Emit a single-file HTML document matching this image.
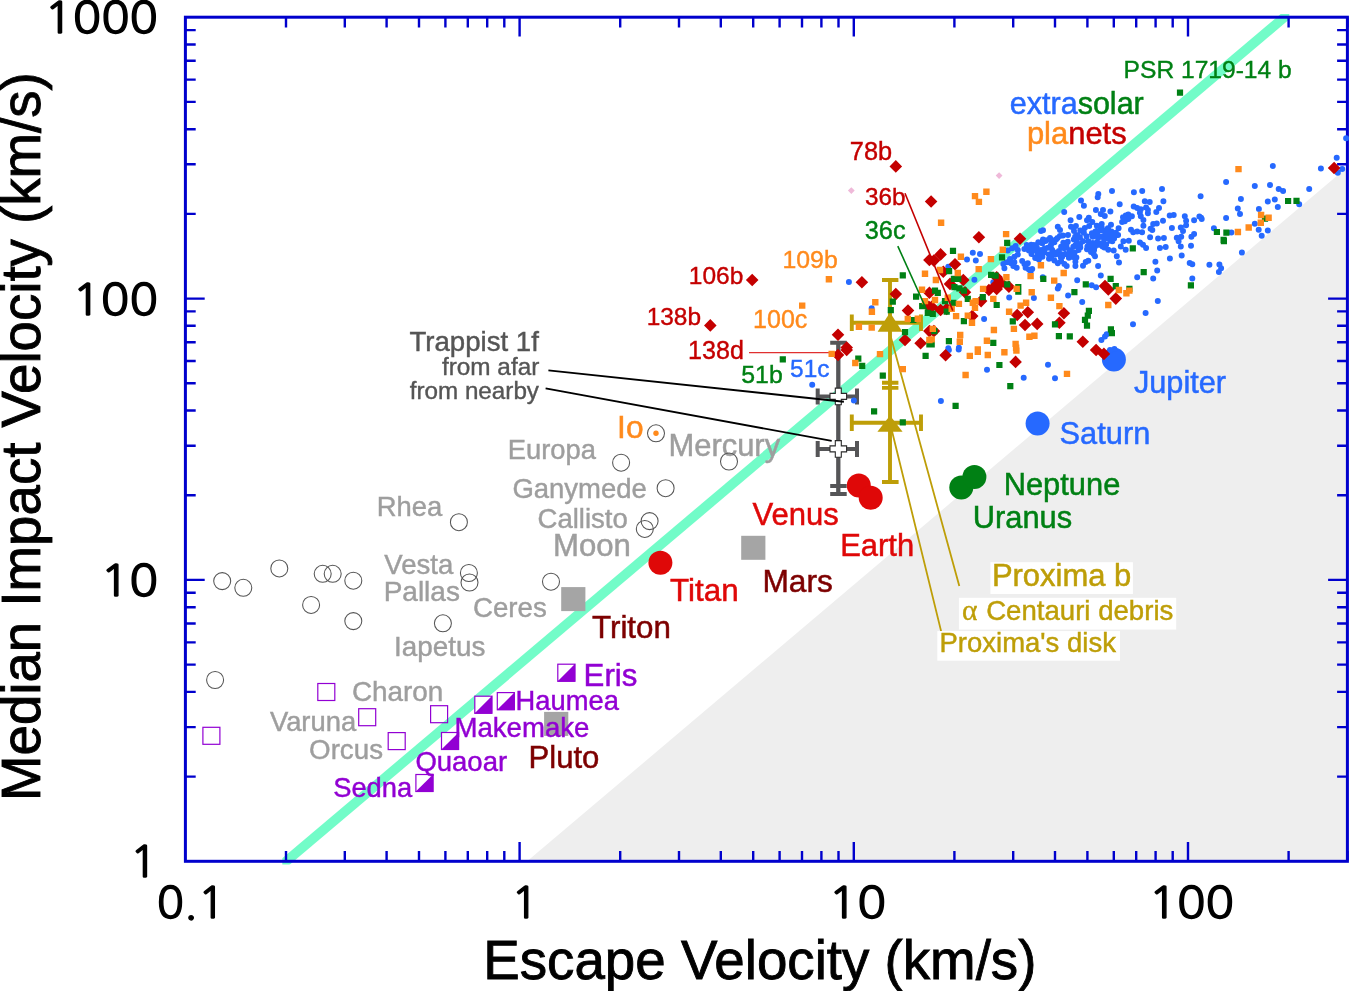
<!DOCTYPE html>
<html lang="en">
<head>
<meta charset="utf-8">
<title>Median Impact Velocity vs Escape Velocity</title>
<style>
html,body{margin:0;padding:0;background:#fff;}
body{width:1350px;height:991px;overflow:hidden;}
svg{display:block;}
</style>
</head>
<body>
<svg width="1350" height="991" viewBox="0 0 1350 991" font-family='"Liberation Sans", sans-serif'>
<rect x="0" y="0" width="1350" height="991" fill="#fff"/>
<polygon points="527.1,861.3 1347.4,167.0 1347.4,861.3" fill="#eeeeee"/>
<clipPath id="fr"><rect x="282.3" y="13.9" width="1007.0" height="850.6"/></clipPath>
<line x1="250.0" y1="891.9" x2="1320.0" y2="-12.9" stroke="#72fcc8" stroke-width="9.7" clip-path="url(#fr)"/>
<path d="M286.0,861.3v-10.3M286.0,17.2v10.3M344.8,861.3v-10.3M344.8,17.2v10.3M386.6,861.3v-10.3M386.6,17.2v10.3M419.0,861.3v-10.3M419.0,17.2v10.3M445.4,861.3v-10.3M445.4,17.2v10.3M467.8,861.3v-10.3M467.8,17.2v10.3M487.2,861.3v-10.3M487.2,17.2v10.3M504.3,861.3v-10.3M504.3,17.2v10.3M519.6,861.3v-19.3M519.6,17.2v19.3M620.2,861.3v-10.3M620.2,17.2v10.3M679.0,861.3v-10.3M679.0,17.2v10.3M720.8,861.3v-10.3M720.8,17.2v10.3M753.2,861.3v-10.3M753.2,17.2v10.3M779.6,861.3v-10.3M779.6,17.2v10.3M802.0,861.3v-10.3M802.0,17.2v10.3M821.4,861.3v-10.3M821.4,17.2v10.3M838.5,861.3v-10.3M838.5,17.2v10.3M853.8,861.3v-19.3M853.8,17.2v19.3M954.4,861.3v-10.3M954.4,17.2v10.3M1013.2,861.3v-10.3M1013.2,17.2v10.3M1055.0,861.3v-10.3M1055.0,17.2v10.3M1087.4,861.3v-10.3M1087.4,17.2v10.3M1113.8,861.3v-10.3M1113.8,17.2v10.3M1136.2,861.3v-10.3M1136.2,17.2v10.3M1155.6,861.3v-10.3M1155.6,17.2v10.3M1172.7,861.3v-10.3M1172.7,17.2v10.3M1188.0,861.3v-19.3M1188.0,17.2v19.3M1288.6,861.3v-10.3M1288.6,17.2v10.3M1347.4,861.3v-10.3M1347.4,17.2v10.3M185.4,776.6h10.3M1347.4,776.6h-10.3M185.4,727.1h10.3M1347.4,727.1h-10.3M185.4,691.9h10.3M1347.4,691.9h-10.3M185.4,664.6h10.3M1347.4,664.6h-10.3M185.4,642.4h10.3M1347.4,642.4h-10.3M185.4,623.5h10.3M1347.4,623.5h-10.3M185.4,607.2h10.3M1347.4,607.2h-10.3M185.4,592.8h10.3M1347.4,592.8h-10.3M185.4,579.9h19.3M1347.4,579.9h-19.3M185.4,495.2h10.3M1347.4,495.2h-10.3M185.4,445.7h10.3M1347.4,445.7h-10.3M185.4,410.5h10.3M1347.4,410.5h-10.3M185.4,383.3h10.3M1347.4,383.3h-10.3M185.4,361.0h10.3M1347.4,361.0h-10.3M185.4,342.2h10.3M1347.4,342.2h-10.3M185.4,325.8h10.3M1347.4,325.8h-10.3M185.4,311.4h10.3M1347.4,311.4h-10.3M185.4,298.6h19.3M1347.4,298.6h-19.3M185.4,213.9h10.3M1347.4,213.9h-10.3M185.4,164.3h10.3M1347.4,164.3h-10.3M185.4,129.2h10.3M1347.4,129.2h-10.3M185.4,101.9h10.3M1347.4,101.9h-10.3M185.4,79.6h10.3M1347.4,79.6h-10.3M185.4,60.8h10.3M1347.4,60.8h-10.3M185.4,44.5h10.3M1347.4,44.5h-10.3M185.4,30.1h10.3M1347.4,30.1h-10.3" stroke="#0000cd" stroke-width="2.4" fill="none"/>
<rect x="185.4" y="17.2" width="1162.0" height="844.1" fill="none" stroke="#0000cd" stroke-width="3"/>
<text x="507.8" y="459.0" font-size="27.4" fill="#9e9e9e" stroke="#9e9e9e" stroke-width="0.44" textLength="88.2" lengthAdjust="spacingAndGlyphs">Europa</text>
<text x="668.5" y="455.6" font-size="30.9" fill="#9e9e9e" stroke="#9e9e9e" stroke-width="0.49" textLength="111.6" lengthAdjust="spacingAndGlyphs">Mercury</text>
<text x="512.4" y="497.7" font-size="27.5" fill="#9e9e9e" stroke="#9e9e9e" stroke-width="0.44" textLength="134.4" lengthAdjust="spacingAndGlyphs">Ganymede</text>
<text x="537.5" y="528.2" font-size="27.5" fill="#9e9e9e" stroke="#9e9e9e" stroke-width="0.44" textLength="90.3" lengthAdjust="spacingAndGlyphs">Callisto</text>
<text x="553.0" y="556.2" font-size="31.1" fill="#9e9e9e" stroke="#9e9e9e" stroke-width="0.50" textLength="77.9" lengthAdjust="spacingAndGlyphs">Moon</text>
<text x="376.7" y="516.0" font-size="27.4" fill="#9e9e9e" stroke="#9e9e9e" stroke-width="0.44" textLength="65.5" lengthAdjust="spacingAndGlyphs">Rhea</text>
<text x="384.3" y="573.5" font-size="27.6" fill="#9e9e9e" stroke="#9e9e9e" stroke-width="0.44" textLength="69.0" lengthAdjust="spacingAndGlyphs">Vesta</text>
<text x="383.7" y="601.0" font-size="28.0" fill="#9e9e9e" stroke="#9e9e9e" stroke-width="0.45" textLength="76.2" lengthAdjust="spacingAndGlyphs">Pallas</text>
<text x="473.0" y="616.6" font-size="27.7" fill="#9e9e9e" stroke="#9e9e9e" stroke-width="0.44" textLength="73.8" lengthAdjust="spacingAndGlyphs">Ceres</text>
<text x="394.1" y="655.7" font-size="27.8" fill="#9e9e9e" stroke="#9e9e9e" stroke-width="0.45" textLength="91.3" lengthAdjust="spacingAndGlyphs">Iapetus</text>
<text x="351.9" y="700.6" font-size="27.9" fill="#9e9e9e" stroke="#9e9e9e" stroke-width="0.45" textLength="91.4" lengthAdjust="spacingAndGlyphs">Charon</text>
<text x="269.9" y="730.9" font-size="27.4" fill="#9e9e9e" stroke="#9e9e9e" stroke-width="0.44" textLength="86.3" lengthAdjust="spacingAndGlyphs">Varuna</text>
<text x="309.1" y="758.6" font-size="27.7" fill="#9e9e9e" stroke="#9e9e9e" stroke-width="0.44" textLength="73.9" lengthAdjust="spacingAndGlyphs">Orcus</text>
<circle cx="222.2" cy="581.1" r="8.5" fill="none" stroke="#555" stroke-width="1.05"/>
<circle cx="243.3" cy="587.8" r="8.5" fill="none" stroke="#555" stroke-width="1.05"/>
<circle cx="279.3" cy="568.4" r="8.5" fill="none" stroke="#555" stroke-width="1.05"/>
<circle cx="322.7" cy="573.8" r="8.5" fill="none" stroke="#555" stroke-width="1.05"/>
<circle cx="332.7" cy="573.8" r="8.5" fill="none" stroke="#555" stroke-width="1.05"/>
<circle cx="353.3" cy="580.7" r="8.5" fill="none" stroke="#555" stroke-width="1.05"/>
<circle cx="311.1" cy="604.9" r="8.5" fill="none" stroke="#555" stroke-width="1.05"/>
<circle cx="353.3" cy="621.1" r="8.5" fill="none" stroke="#555" stroke-width="1.05"/>
<circle cx="442.9" cy="623.3" r="8.5" fill="none" stroke="#555" stroke-width="1.05"/>
<circle cx="458.9" cy="522.2" r="8.5" fill="none" stroke="#555" stroke-width="1.05"/>
<circle cx="468.9" cy="573.0" r="8.5" fill="none" stroke="#555" stroke-width="1.05"/>
<circle cx="469.5" cy="582.5" r="8.5" fill="none" stroke="#555" stroke-width="1.05"/>
<circle cx="215.1" cy="680.0" r="8.5" fill="none" stroke="#555" stroke-width="1.05"/>
<circle cx="621.1" cy="462.7" r="8.5" fill="none" stroke="#555" stroke-width="1.05"/>
<circle cx="729.0" cy="461.5" r="8.5" fill="none" stroke="#555" stroke-width="1.05"/>
<circle cx="665.6" cy="488.2" r="8.5" fill="none" stroke="#555" stroke-width="1.05"/>
<circle cx="649.6" cy="521.1" r="8.5" fill="none" stroke="#555" stroke-width="1.05"/>
<circle cx="644.8" cy="528.9" r="8.5" fill="none" stroke="#555" stroke-width="1.05"/>
<circle cx="551.0" cy="581.7" r="8.5" fill="none" stroke="#555" stroke-width="1.05"/>
<circle cx="656.0" cy="433.3" r="8.5" fill="none" stroke="#555" stroke-width="1.05"/>
<circle cx="656" cy="433.3" r="2.7" fill="#ff8a1c"/>
<rect x="561.2" y="587.1" width="24.2" height="24" fill="#a5a5a5"/>
<rect x="741.2" y="535.8" width="24.2" height="24" fill="#a5a5a5"/>
<rect x="544.1" y="711.9" width="24.2" height="24" fill="#a5a5a5"/>
<rect x="202.9" y="727.3" width="17.0" height="17.0" fill="none" stroke="#9200d3" stroke-width="1.2"/>
<rect x="317.8" y="683.5" width="17.0" height="17.0" fill="none" stroke="#9200d3" stroke-width="1.2"/>
<rect x="358.7" y="708.7" width="17.0" height="17.0" fill="none" stroke="#9200d3" stroke-width="1.2"/>
<rect x="388.2" y="732.6" width="17.0" height="17.0" fill="none" stroke="#9200d3" stroke-width="1.2"/>
<rect x="430.6" y="705.7" width="17.0" height="17.0" fill="none" stroke="#9200d3" stroke-width="1.2"/>
<rect x="415.9" y="774.5" width="17.0" height="17.0" fill="#fff" stroke="#9200d3" stroke-width="1.2"/>
<polygon points="415.3,792.1 433.5,773.9 433.5,792.1" fill="#9200d3"/>
<rect x="441.5" y="732.5" width="17.0" height="17.0" fill="#fff" stroke="#9200d3" stroke-width="1.2"/>
<polygon points="440.9,750.1 459.1,731.9 459.1,750.1" fill="#9200d3"/>
<rect x="474.8" y="696.2" width="17.0" height="17.0" fill="#fff" stroke="#9200d3" stroke-width="1.2"/>
<polygon points="474.2,713.8 492.4,695.6 492.4,713.8" fill="#9200d3"/>
<rect x="497.3" y="692.6" width="17.0" height="17.0" fill="#fff" stroke="#9200d3" stroke-width="1.2"/>
<polygon points="496.7,710.2 514.9,692.0 514.9,710.2" fill="#9200d3"/>
<rect x="557.8" y="664.2" width="17.0" height="17.0" fill="#fff" stroke="#9200d3" stroke-width="1.2"/>
<polygon points="557.2,681.8 575.4,663.6 575.4,681.8" fill="#9200d3"/>
<path d="M749,352.6H835" stroke="#e03030" stroke-width="1.3" fill="none"/>
<path d="M887,323L959.3,586M890.5,425L941.1,631.1" stroke="#be9e08" stroke-width="1.8" fill="none"/>
<circle cx="660.4" cy="562.7" r="12" fill="#df0808"/>
<circle cx="858.8" cy="485.4" r="12" fill="#df0808"/>
<circle cx="870.7" cy="497.7" r="12" fill="#df0808"/>
<circle cx="1113.9" cy="359.4" r="12" fill="#2669ff"/>
<circle cx="1037.6" cy="423.6" r="12" fill="#2669ff"/>
<circle cx="961.3" cy="487.6" r="12" fill="#008014"/>
<circle cx="974.4" cy="477.1" r="12" fill="#008014"/>
<path d="M838.3,342.8V494.5" stroke="#555557" stroke-width="4.3" fill="none"/>
<path d="M830.2,342.8H846.7M830.2,486.0H846.7M830.2,494.0H846.7" stroke="#555557" stroke-width="4" fill="none"/>
<path d="M815.8,396.4H858.9M817.7,388.4V404.4M857,388.4V404.4" stroke="#555557" stroke-width="4" fill="none"/>
<path d="M815.8,448.9H858.9M817.7,440.9V456.9M857,440.9V456.9" stroke="#555557" stroke-width="4" fill="none"/>
<path d="M835.3,388.09999999999997h6.0v5.300000000000001h5.300000000000001v6.0h-5.300000000000001v5.300000000000001h-6.0v-5.300000000000001h-5.300000000000001v-6.0h5.300000000000001z" fill="#fff" stroke="#2a2a2a" stroke-width="1.1"/>
<path d="M835.3,440.59999999999997h6.0v5.300000000000001h5.300000000000001v6.0h-5.300000000000001v5.300000000000001h-6.0v-5.300000000000001h-5.300000000000001v-6.0h5.300000000000001z" fill="#fff" stroke="#2a2a2a" stroke-width="1.1"/>
<path d="M890.0,280V482M882,280H898.4M882,382.8H898.4M882,387.9H898.4M882,482H898.6" stroke="#be9e08" stroke-width="3.9" fill="none"/>
<path d="M850,322.8H922.8M851.8,314.6V331.0M921,314.6V331.0" stroke="#be9e08" stroke-width="3.9" fill="none"/>
<path d="M850,422.8H922.8M851.8,414.6V431.0M921,414.6V431.0" stroke="#be9e08" stroke-width="3.9" fill="none"/>
<polygon points="890.0,312.6 902.4,331.8 877.6,331.8" fill="#be9e08"/>
<polygon points="890.0,415.4 902.6,431.8 877.4,431.8" fill="#be9e08"/>
<path d="M845.9,281.9a3,3 0 1,0 6,0a3,3 0 1,0 -6,0M868.7,308.3a3,3 0 1,0 6,0a3,3 0 1,0 -6,0M809.2,384.8a3,3 0 1,0 6,0a3,3 0 1,0 -6,0M850.9,400.6a3,3 0 1,0 6,0a3,3 0 1,0 -6,0M969.8,252.8a3,3 0 1,0 6,0a3,3 0 1,0 -6,0M977.0,254.1a3,3 0 1,0 6,0a3,3 0 1,0 -6,0M964.0,259.4a3,3 0 1,0 6,0a3,3 0 1,0 -6,0M972.8,260.6a3,3 0 1,0 6,0a3,3 0 1,0 -6,0M945.3,266.7a3,3 0 1,0 6,0a3,3 0 1,0 -6,0M971.4,279.7a3,3 0 1,0 6,0a3,3 0 1,0 -6,0M990.3,282.2a3,3 0 1,0 6,0a3,3 0 1,0 -6,0M1006.2,297.4a3,3 0 1,0 6,0a3,3 0 1,0 -6,0M1030.9,298.1a3,3 0 1,0 6,0a3,3 0 1,0 -6,0M981.1,319.1a3,3 0 1,0 6,0a3,3 0 1,0 -6,0M1055.9,286.1a3,3 0 1,0 6,0a3,3 0 1,0 -6,0M1054.8,288.6a3,3 0 1,0 6,0a3,3 0 1,0 -6,0M1065.1,295.6a3,3 0 1,0 6,0a3,3 0 1,0 -6,0M1039.8,277.2a3,3 0 1,0 6,0a3,3 0 1,0 -6,0M945.3,348.3a3,3 0 1,0 6,0a3,3 0 1,0 -6,0M955.9,347.8a3,3 0 1,0 6,0a3,3 0 1,0 -6,0M945.9,350.0a3,3 0 1,0 6,0a3,3 0 1,0 -6,0M955.7,349.4a3,3 0 1,0 6,0a3,3 0 1,0 -6,0M984.0,369.7a3,3 0 1,0 6,0a3,3 0 1,0 -6,0M1020.7,377.8a3,3 0 1,0 6,0a3,3 0 1,0 -6,0M1045.0,364.8a3,3 0 1,0 6,0a3,3 0 1,0 -6,0M1052.0,378.3a3,3 0 1,0 6,0a3,3 0 1,0 -6,0M937.9,400.9a3,3 0 1,0 6,0a3,3 0 1,0 -6,0M1130.0,324.2a3,3 0 1,0 6,0a3,3 0 1,0 -6,0M1103.7,334.2a3,3 0 1,0 6,0a3,3 0 1,0 -6,0M1102.0,336.4a3,3 0 1,0 6,0a3,3 0 1,0 -6,0M1098.4,340.0a3,3 0 1,0 6,0a3,3 0 1,0 -6,0M1111.4,348.9a3,3 0 1,0 6,0a3,3 0 1,0 -6,0M1107.0,350.0a3,3 0 1,0 6,0a3,3 0 1,0 -6,0M1343.1,138.3a3,3 0 1,0 6,0a3,3 0 1,0 -6,0M1333.7,157.8a3,3 0 1,0 6,0a3,3 0 1,0 -6,0M1317.9,168.6a3,3 0 1,0 6,0a3,3 0 1,0 -6,0M1339.2,168.9a3,3 0 1,0 6,0a3,3 0 1,0 -6,0M1334.8,172.8a3,3 0 1,0 6,0a3,3 0 1,0 -6,0M1269.8,165.9a3,3 0 1,0 6,0a3,3 0 1,0 -6,0M1223.1,181.9a3,3 0 1,0 6,0a3,3 0 1,0 -6,0M1251.8,185.9a3,3 0 1,0 6,0a3,3 0 1,0 -6,0M1267.0,185.0a3,3 0 1,0 6,0a3,3 0 1,0 -6,0M1275.7,188.9a3,3 0 1,0 6,0a3,3 0 1,0 -6,0M1280.1,190.9a3,3 0 1,0 6,0a3,3 0 1,0 -6,0M1306.2,188.9a3,3 0 1,0 6,0a3,3 0 1,0 -6,0M1197.6,196.3a3,3 0 1,0 6,0a3,3 0 1,0 -6,0M1237.9,198.9a3,3 0 1,0 6,0a3,3 0 1,0 -6,0M1271.8,199.4a3,3 0 1,0 6,0a3,3 0 1,0 -6,0M1264.8,201.4a3,3 0 1,0 6,0a3,3 0 1,0 -6,0M1274.8,207.0a3,3 0 1,0 6,0a3,3 0 1,0 -6,0M1296.2,204.2a3,3 0 1,0 6,0a3,3 0 1,0 -6,0M1234.8,208.6a3,3 0 1,0 6,0a3,3 0 1,0 -6,0M1255.9,209.1a3,3 0 1,0 6,0a3,3 0 1,0 -6,0M1237.0,214.1a3,3 0 1,0 6,0a3,3 0 1,0 -6,0M1223.1,218.1a3,3 0 1,0 6,0a3,3 0 1,0 -6,0M1198.1,217.8a3,3 0 1,0 6,0a3,3 0 1,0 -6,0M1251.8,223.7a3,3 0 1,0 6,0a3,3 0 1,0 -6,0M1210.9,228.3a3,3 0 1,0 6,0a3,3 0 1,0 -6,0M1228.4,232.4a3,3 0 1,0 6,0a3,3 0 1,0 -6,0M1255.7,229.8a3,3 0 1,0 6,0a3,3 0 1,0 -6,0M1264.8,230.6a3,3 0 1,0 6,0a3,3 0 1,0 -6,0M1258.7,235.8a3,3 0 1,0 6,0a3,3 0 1,0 -6,0M1238.9,252.6a3,3 0 1,0 6,0a3,3 0 1,0 -6,0M1206.4,264.7a3,3 0 1,0 6,0a3,3 0 1,0 -6,0M1216.4,264.4a3,3 0 1,0 6,0a3,3 0 1,0 -6,0M1218.1,268.3a3,3 0 1,0 6,0a3,3 0 1,0 -6,0M1215.9,271.9a3,3 0 1,0 6,0a3,3 0 1,0 -6,0M1095.3,193.9a3,3 0 1,0 6,0a3,3 0 1,0 -6,0M1109.0,190.9a3,3 0 1,0 6,0a3,3 0 1,0 -6,0M1130.9,192.2a3,3 0 1,0 6,0a3,3 0 1,0 -6,0M1139.2,190.9a3,3 0 1,0 6,0a3,3 0 1,0 -6,0M1159.0,188.9a3,3 0 1,0 6,0a3,3 0 1,0 -6,0M1196.4,216.4a3,3 0 1,0 6,0a3,3 0 1,0 -6,0M1198.7,218.9a3,3 0 1,0 6,0a3,3 0 1,0 -6,0M1061.2,211.9a3,3 0 1,0 6,0a3,3 0 1,0 -6,0M1067.6,220.2a3,3 0 1,0 6,0a3,3 0 1,0 -6,0M1038.0,231.0a3,3 0 1,0 6,0a3,3 0 1,0 -6,0M1040.0,230.3a3,3 0 1,0 6,0a3,3 0 1,0 -6,0M1054.8,226.7a3,3 0 1,0 6,0a3,3 0 1,0 -6,0M1057.0,230.0a3,3 0 1,0 6,0a3,3 0 1,0 -6,0M1068.0,226.7a3,3 0 1,0 6,0a3,3 0 1,0 -6,0M1071.0,231.0a3,3 0 1,0 6,0a3,3 0 1,0 -6,0M1060.0,235.5a3,3 0 1,0 6,0a3,3 0 1,0 -6,0M1065.0,235.0a3,3 0 1,0 6,0a3,3 0 1,0 -6,0M1047.0,238.0a3,3 0 1,0 6,0a3,3 0 1,0 -6,0M1040.0,239.5a3,3 0 1,0 6,0a3,3 0 1,0 -6,0M1047.7,239.0a3,3 0 1,0 6,0a3,3 0 1,0 -6,0M1004.8,250.6a3,3 0 1,0 6,0a3,3 0 1,0 -6,0M1009.2,248.3a3,3 0 1,0 6,0a3,3 0 1,0 -6,0M1012.6,246.1a3,3 0 1,0 6,0a3,3 0 1,0 -6,0M1014.8,250.0a3,3 0 1,0 6,0a3,3 0 1,0 -6,0M1014.8,254.4a3,3 0 1,0 6,0a3,3 0 1,0 -6,0M1011.4,256.7a3,3 0 1,0 6,0a3,3 0 1,0 -6,0M1007.0,258.9a3,3 0 1,0 6,0a3,3 0 1,0 -6,0M1003.7,262.2a3,3 0 1,0 6,0a3,3 0 1,0 -6,0M1000.3,263.9a3,3 0 1,0 6,0a3,3 0 1,0 -6,0M1001.4,268.3a3,3 0 1,0 6,0a3,3 0 1,0 -6,0M1008.1,263.3a3,3 0 1,0 6,0a3,3 0 1,0 -6,0M1011.4,262.2a3,3 0 1,0 6,0a3,3 0 1,0 -6,0M1010.3,266.1a3,3 0 1,0 6,0a3,3 0 1,0 -6,0M1013.7,267.8a3,3 0 1,0 6,0a3,3 0 1,0 -6,0M1019.2,261.1a3,3 0 1,0 6,0a3,3 0 1,0 -6,0M1021.4,263.9a3,3 0 1,0 6,0a3,3 0 1,0 -6,0M1024.8,263.3a3,3 0 1,0 6,0a3,3 0 1,0 -6,0M1022.6,267.8a3,3 0 1,0 6,0a3,3 0 1,0 -6,0M1025.9,269.4a3,3 0 1,0 6,0a3,3 0 1,0 -6,0M1029.2,268.9a3,3 0 1,0 6,0a3,3 0 1,0 -6,0M1027.6,271.7a3,3 0 1,0 6,0a3,3 0 1,0 -6,0M1023.7,245.0a3,3 0 1,0 6,0a3,3 0 1,0 -6,0M1021.4,248.9a3,3 0 1,0 6,0a3,3 0 1,0 -6,0M1025.9,250.6a3,3 0 1,0 6,0a3,3 0 1,0 -6,0M1030.3,248.9a3,3 0 1,0 6,0a3,3 0 1,0 -6,0M1033.7,246.7a3,3 0 1,0 6,0a3,3 0 1,0 -6,0M1035.3,242.2a3,3 0 1,0 6,0a3,3 0 1,0 -6,0M1039.2,243.3a3,3 0 1,0 6,0a3,3 0 1,0 -6,0M1042.6,241.1a3,3 0 1,0 6,0a3,3 0 1,0 -6,0M1038.1,250.0a3,3 0 1,0 6,0a3,3 0 1,0 -6,0M1041.4,252.2a3,3 0 1,0 6,0a3,3 0 1,0 -6,0M1036.4,254.4a3,3 0 1,0 6,0a3,3 0 1,0 -6,0M1033.7,257.2a3,3 0 1,0 6,0a3,3 0 1,0 -6,0M1035.9,259.4a3,3 0 1,0 6,0a3,3 0 1,0 -6,0M1044.8,247.8a3,3 0 1,0 6,0a3,3 0 1,0 -6,0M1048.1,244.4a3,3 0 1,0 6,0a3,3 0 1,0 -6,0M1051.4,242.2a3,3 0 1,0 6,0a3,3 0 1,0 -6,0M1049.2,250.0a3,3 0 1,0 6,0a3,3 0 1,0 -6,0M1045.9,254.4a3,3 0 1,0 6,0a3,3 0 1,0 -6,0M1048.1,257.8a3,3 0 1,0 6,0a3,3 0 1,0 -6,0M1051.4,260.6a3,3 0 1,0 6,0a3,3 0 1,0 -6,0M1054.8,263.3a3,3 0 1,0 6,0a3,3 0 1,0 -6,0M1052.6,254.4a3,3 0 1,0 6,0a3,3 0 1,0 -6,0M1055.9,251.1a3,3 0 1,0 6,0a3,3 0 1,0 -6,0M1058.1,246.7a3,3 0 1,0 6,0a3,3 0 1,0 -6,0M1060.3,242.8a3,3 0 1,0 6,0a3,3 0 1,0 -6,0M1064.8,241.7a3,3 0 1,0 6,0a3,3 0 1,0 -6,0M1063.7,247.8a3,3 0 1,0 6,0a3,3 0 1,0 -6,0M1067.0,250.6a3,3 0 1,0 6,0a3,3 0 1,0 -6,0M1062.6,253.9a3,3 0 1,0 6,0a3,3 0 1,0 -6,0M1059.2,256.7a3,3 0 1,0 6,0a3,3 0 1,0 -6,0M1058.1,261.1a3,3 0 1,0 6,0a3,3 0 1,0 -6,0M1061.4,263.9a3,3 0 1,0 6,0a3,3 0 1,0 -6,0M1063.7,266.1a3,3 0 1,0 6,0a3,3 0 1,0 -6,0M1065.9,257.8a3,3 0 1,0 6,0a3,3 0 1,0 -6,0M1070.3,246.7a3,3 0 1,0 6,0a3,3 0 1,0 -6,0M1088.7,285.3a3,3 0 1,0 6,0a3,3 0 1,0 -6,0M1093.1,287.2a3,3 0 1,0 6,0a3,3 0 1,0 -6,0M1079.2,302.0a3,3 0 1,0 6,0a3,3 0 1,0 -6,0M1154.8,301.1a3,3 0 1,0 6,0a3,3 0 1,0 -6,0M1142.6,313.0a3,3 0 1,0 6,0a3,3 0 1,0 -6,0M1078.0,200.5a3,3 0 1,0 6,0a3,3 0 1,0 -6,0M1080.9,205.7a3,3 0 1,0 6,0a3,3 0 1,0 -6,0M1094.7,197.2a3,3 0 1,0 6,0a3,3 0 1,0 -6,0M1116.7,204.3a3,3 0 1,0 6,0a3,3 0 1,0 -6,0M1092.9,210.1a3,3 0 1,0 6,0a3,3 0 1,0 -6,0M1100.0,210.1a3,3 0 1,0 6,0a3,3 0 1,0 -6,0M1107.4,211.4a3,3 0 1,0 6,0a3,3 0 1,0 -6,0M1097.8,214.1a3,3 0 1,0 6,0a3,3 0 1,0 -6,0M1101.8,215.9a3,3 0 1,0 6,0a3,3 0 1,0 -6,0M1076.3,217.0a3,3 0 1,0 6,0a3,3 0 1,0 -6,0M1085.8,217.7a3,3 0 1,0 6,0a3,3 0 1,0 -6,0M1084.0,220.3a3,3 0 1,0 6,0a3,3 0 1,0 -6,0M1089.3,222.1a3,3 0 1,0 6,0a3,3 0 1,0 -6,0M1072.9,226.1a3,3 0 1,0 6,0a3,3 0 1,0 -6,0M1093.8,225.7a3,3 0 1,0 6,0a3,3 0 1,0 -6,0M1098.7,223.9a3,3 0 1,0 6,0a3,3 0 1,0 -6,0M1098.7,227.4a3,3 0 1,0 6,0a3,3 0 1,0 -6,0M1108.0,224.8a3,3 0 1,0 6,0a3,3 0 1,0 -6,0M1104.9,228.3a3,3 0 1,0 6,0a3,3 0 1,0 -6,0M1115.6,228.3a3,3 0 1,0 6,0a3,3 0 1,0 -6,0M1080.9,232.8a3,3 0 1,0 6,0a3,3 0 1,0 -6,0M1096.9,230.6a3,3 0 1,0 6,0a3,3 0 1,0 -6,0M1102.2,234.1a3,3 0 1,0 6,0a3,3 0 1,0 -6,0M1108.4,231.4a3,3 0 1,0 6,0a3,3 0 1,0 -6,0M1112.9,232.8a3,3 0 1,0 6,0a3,3 0 1,0 -6,0M1115.1,235.0a3,3 0 1,0 6,0a3,3 0 1,0 -6,0M1076.9,237.2a3,3 0 1,0 6,0a3,3 0 1,0 -6,0M1083.6,236.3a3,3 0 1,0 6,0a3,3 0 1,0 -6,0M1089.8,236.8a3,3 0 1,0 6,0a3,3 0 1,0 -6,0M1095.1,237.7a3,3 0 1,0 6,0a3,3 0 1,0 -6,0M1111.1,238.6a3,3 0 1,0 6,0a3,3 0 1,0 -6,0M1107.1,240.8a3,3 0 1,0 6,0a3,3 0 1,0 -6,0M1109.3,241.2a3,3 0 1,0 6,0a3,3 0 1,0 -6,0M1073.8,241.2a3,3 0 1,0 6,0a3,3 0 1,0 -6,0M1077.3,243.9a3,3 0 1,0 6,0a3,3 0 1,0 -6,0M1094.2,242.1a3,3 0 1,0 6,0a3,3 0 1,0 -6,0M1097.8,243.4a3,3 0 1,0 6,0a3,3 0 1,0 -6,0M1086.7,245.7a3,3 0 1,0 6,0a3,3 0 1,0 -6,0M1092.0,246.6a3,3 0 1,0 6,0a3,3 0 1,0 -6,0M1084.0,249.2a3,3 0 1,0 6,0a3,3 0 1,0 -6,0M1075.6,250.1a3,3 0 1,0 6,0a3,3 0 1,0 -6,0M1088.0,251.9a3,3 0 1,0 6,0a3,3 0 1,0 -6,0M1090.7,254.1a3,3 0 1,0 6,0a3,3 0 1,0 -6,0M1092.0,256.3a3,3 0 1,0 6,0a3,3 0 1,0 -6,0M1101.3,247.4a3,3 0 1,0 6,0a3,3 0 1,0 -6,0M1105.3,249.7a3,3 0 1,0 6,0a3,3 0 1,0 -6,0M1110.7,250.6a3,3 0 1,0 6,0a3,3 0 1,0 -6,0M1120.4,241.2a3,3 0 1,0 6,0a3,3 0 1,0 -6,0M1125.8,240.8a3,3 0 1,0 6,0a3,3 0 1,0 -6,0M1117.8,246.6a3,3 0 1,0 6,0a3,3 0 1,0 -6,0M1122.7,249.7a3,3 0 1,0 6,0a3,3 0 1,0 -6,0M1113.8,256.3a3,3 0 1,0 6,0a3,3 0 1,0 -6,0M1116.0,262.6a3,3 0 1,0 6,0a3,3 0 1,0 -6,0M1085.3,260.8a3,3 0 1,0 6,0a3,3 0 1,0 -6,0M1082.7,262.1a3,3 0 1,0 6,0a3,3 0 1,0 -6,0M1080.0,265.7a3,3 0 1,0 6,0a3,3 0 1,0 -6,0M1072.4,261.7a3,3 0 1,0 6,0a3,3 0 1,0 -6,0M1072.4,266.1a3,3 0 1,0 6,0a3,3 0 1,0 -6,0M1095.1,266.1a3,3 0 1,0 6,0a3,3 0 1,0 -6,0M1097.8,275.4a3,3 0 1,0 6,0a3,3 0 1,0 -6,0M1074.2,280.3a3,3 0 1,0 6,0a3,3 0 1,0 -6,0M1120.0,217.2a3,3 0 1,0 6,0a3,3 0 1,0 -6,0M1122.7,215.4a3,3 0 1,0 6,0a3,3 0 1,0 -6,0M1125.3,214.6a3,3 0 1,0 6,0a3,3 0 1,0 -6,0M1128.9,216.3a3,3 0 1,0 6,0a3,3 0 1,0 -6,0M1125.3,219.0a3,3 0 1,0 6,0a3,3 0 1,0 -6,0M1121.8,221.2a3,3 0 1,0 6,0a3,3 0 1,0 -6,0M1119.1,222.1a3,3 0 1,0 6,0a3,3 0 1,0 -6,0M1130.7,206.6a3,3 0 1,0 6,0a3,3 0 1,0 -6,0M1134.2,207.9a3,3 0 1,0 6,0a3,3 0 1,0 -6,0M1137.8,209.2a3,3 0 1,0 6,0a3,3 0 1,0 -6,0M1136.9,212.8a3,3 0 1,0 6,0a3,3 0 1,0 -6,0M1137.8,216.3a3,3 0 1,0 6,0a3,3 0 1,0 -6,0M1140.4,219.9a3,3 0 1,0 6,0a3,3 0 1,0 -6,0M1140.4,225.7a3,3 0 1,0 6,0a3,3 0 1,0 -6,0M1141.8,201.2a3,3 0 1,0 6,0a3,3 0 1,0 -6,0M1146.7,202.1a3,3 0 1,0 6,0a3,3 0 1,0 -6,0M1143.1,207.4a3,3 0 1,0 6,0a3,3 0 1,0 -6,0M1144.9,210.1a3,3 0 1,0 6,0a3,3 0 1,0 -6,0M1144.9,213.2a3,3 0 1,0 6,0a3,3 0 1,0 -6,0M1160.4,201.2a3,3 0 1,0 6,0a3,3 0 1,0 -6,0M1156.0,207.9a3,3 0 1,0 6,0a3,3 0 1,0 -6,0M1153.3,211.9a3,3 0 1,0 6,0a3,3 0 1,0 -6,0M1128.0,229.7a3,3 0 1,0 6,0a3,3 0 1,0 -6,0M1130.2,232.3a3,3 0 1,0 6,0a3,3 0 1,0 -6,0M1134.2,231.4a3,3 0 1,0 6,0a3,3 0 1,0 -6,0M1139.1,232.3a3,3 0 1,0 6,0a3,3 0 1,0 -6,0M1147.6,228.8a3,3 0 1,0 6,0a3,3 0 1,0 -6,0M1149.3,230.1a3,3 0 1,0 6,0a3,3 0 1,0 -6,0M1150.2,223.9a3,3 0 1,0 6,0a3,3 0 1,0 -6,0M1153.8,223.4a3,3 0 1,0 6,0a3,3 0 1,0 -6,0M1160.0,220.8a3,3 0 1,0 6,0a3,3 0 1,0 -6,0M1147.1,237.2a3,3 0 1,0 6,0a3,3 0 1,0 -6,0M1155.1,238.6a3,3 0 1,0 6,0a3,3 0 1,0 -6,0M1160.9,238.1a3,3 0 1,0 6,0a3,3 0 1,0 -6,0M1136.9,242.6a3,3 0 1,0 6,0a3,3 0 1,0 -6,0M1140.0,244.8a3,3 0 1,0 6,0a3,3 0 1,0 -6,0M1143.1,247.9a3,3 0 1,0 6,0a3,3 0 1,0 -6,0M1156.9,247.9a3,3 0 1,0 6,0a3,3 0 1,0 -6,0M1162.7,247.0a3,3 0 1,0 6,0a3,3 0 1,0 -6,0M1166.7,215.4a3,3 0 1,0 6,0a3,3 0 1,0 -6,0M1170.7,215.0a3,3 0 1,0 6,0a3,3 0 1,0 -6,0M1168.9,227.9a3,3 0 1,0 6,0a3,3 0 1,0 -6,0M1181.8,216.3a3,3 0 1,0 6,0a3,3 0 1,0 -6,0M1183.1,220.8a3,3 0 1,0 6,0a3,3 0 1,0 -6,0M1183.1,225.2a3,3 0 1,0 6,0a3,3 0 1,0 -6,0M1177.8,227.4a3,3 0 1,0 6,0a3,3 0 1,0 -6,0M1180.0,231.0a3,3 0 1,0 6,0a3,3 0 1,0 -6,0M1173.8,237.7a3,3 0 1,0 6,0a3,3 0 1,0 -6,0M1178.2,236.8a3,3 0 1,0 6,0a3,3 0 1,0 -6,0M1175.6,241.2a3,3 0 1,0 6,0a3,3 0 1,0 -6,0M1177.8,246.6a3,3 0 1,0 6,0a3,3 0 1,0 -6,0M1191.1,220.3a3,3 0 1,0 6,0a3,3 0 1,0 -6,0M1191.1,234.1a3,3 0 1,0 6,0a3,3 0 1,0 -6,0M1188.4,236.8a3,3 0 1,0 6,0a3,3 0 1,0 -6,0M1188.0,245.7a3,3 0 1,0 6,0a3,3 0 1,0 -6,0M1178.7,255.4a3,3 0 1,0 6,0a3,3 0 1,0 -6,0M1166.9,258.6a3,3 0 1,0 6,0a3,3 0 1,0 -6,0M1152.4,261.7a3,3 0 1,0 6,0a3,3 0 1,0 -6,0M1154.2,270.4a3,3 0 1,0 6,0a3,3 0 1,0 -6,0M1150.2,278.6a3,3 0 1,0 6,0a3,3 0 1,0 -6,0M1134.2,277.2a3,3 0 1,0 6,0a3,3 0 1,0 -6,0M1186.7,263.0a3,3 0 1,0 6,0a3,3 0 1,0 -6,0M1189.3,264.3a3,3 0 1,0 6,0a3,3 0 1,0 -6,0M1189.3,278.6a3,3 0 1,0 6,0a3,3 0 1,0 -6,0M1077.3,230.6a3,3 0 1,0 6,0a3,3 0 1,0 -6,0M1074.7,235.0a3,3 0 1,0 6,0a3,3 0 1,0 -6,0M1080.0,241.2a3,3 0 1,0 6,0a3,3 0 1,0 -6,0M1085.3,241.2a3,3 0 1,0 6,0a3,3 0 1,0 -6,0M1089.8,243.0a3,3 0 1,0 6,0a3,3 0 1,0 -6,0M1087.1,249.2a3,3 0 1,0 6,0a3,3 0 1,0 -6,0M1091.1,250.1a3,3 0 1,0 6,0a3,3 0 1,0 -6,0M1094.2,234.1a3,3 0 1,0 6,0a3,3 0 1,0 -6,0M1092.4,231.4a3,3 0 1,0 6,0a3,3 0 1,0 -6,0M1100.4,230.6a3,3 0 1,0 6,0a3,3 0 1,0 -6,0M1104.0,233.2a3,3 0 1,0 6,0a3,3 0 1,0 -6,0M1109.3,235.9a3,3 0 1,0 6,0a3,3 0 1,0 -6,0M1105.8,237.7a3,3 0 1,0 6,0a3,3 0 1,0 -6,0M1101.3,239.4a3,3 0 1,0 6,0a3,3 0 1,0 -6,0M1098.7,236.8a3,3 0 1,0 6,0a3,3 0 1,0 -6,0M1096.0,244.8a3,3 0 1,0 6,0a3,3 0 1,0 -6,0M1099.6,246.6a3,3 0 1,0 6,0a3,3 0 1,0 -6,0M1103.1,244.8a3,3 0 1,0 6,0a3,3 0 1,0 -6,0M1084.4,246.6a3,3 0 1,0 6,0a3,3 0 1,0 -6,0M1077.3,247.4a3,3 0 1,0 6,0a3,3 0 1,0 -6,0M1073.8,245.7a3,3 0 1,0 6,0a3,3 0 1,0 -6,0M1088.9,233.2a3,3 0 1,0 6,0a3,3 0 1,0 -6,0M1081.8,227.9a3,3 0 1,0 6,0a3,3 0 1,0 -6,0M1086.2,226.1a3,3 0 1,0 6,0a3,3 0 1,0 -6,0M1024.4,248.5a3,3 0 1,0 6,0a3,3 0 1,0 -6,0M1028.2,244.7a3,3 0 1,0 6,0a3,3 0 1,0 -6,0M1027.9,249.1a3,3 0 1,0 6,0a3,3 0 1,0 -6,0M1028.5,254.1a3,3 0 1,0 6,0a3,3 0 1,0 -6,0M1030.8,244.9a3,3 0 1,0 6,0a3,3 0 1,0 -6,0M1032.4,250.0a3,3 0 1,0 6,0a3,3 0 1,0 -6,0M1032.2,258.1a3,3 0 1,0 6,0a3,3 0 1,0 -6,0M1034.7,253.4a3,3 0 1,0 6,0a3,3 0 1,0 -6,0M1041.7,248.5a3,3 0 1,0 6,0a3,3 0 1,0 -6,0M1039.4,256.8a3,3 0 1,0 6,0a3,3 0 1,0 -6,0M1043.2,240.3a3,3 0 1,0 6,0a3,3 0 1,0 -6,0M1046.0,258.8a3,3 0 1,0 6,0a3,3 0 1,0 -6,0M1047.7,239.7a3,3 0 1,0 6,0a3,3 0 1,0 -6,0M1048.6,243.5a3,3 0 1,0 6,0a3,3 0 1,0 -6,0M1048.0,247.9a3,3 0 1,0 6,0a3,3 0 1,0 -6,0M1047.6,254.7a3,3 0 1,0 6,0a3,3 0 1,0 -6,0M1048.0,257.0a3,3 0 1,0 6,0a3,3 0 1,0 -6,0M1054.5,237.9a3,3 0 1,0 6,0a3,3 0 1,0 -6,0M1053.3,239.3a3,3 0 1,0 6,0a3,3 0 1,0 -6,0M1053.5,252.4a3,3 0 1,0 6,0a3,3 0 1,0 -6,0M1056.9,235.9a3,3 0 1,0 6,0a3,3 0 1,0 -6,0M1058.7,254.3a3,3 0 1,0 6,0a3,3 0 1,0 -6,0M1057.8,257.3a3,3 0 1,0 6,0a3,3 0 1,0 -6,0M1063.5,244.5a3,3 0 1,0 6,0a3,3 0 1,0 -6,0M1061.1,248.2a3,3 0 1,0 6,0a3,3 0 1,0 -6,0M1067.0,252.4a3,3 0 1,0 6,0a3,3 0 1,0 -6,0M1072.1,236.8a3,3 0 1,0 6,0a3,3 0 1,0 -6,0M1070.8,239.4a3,3 0 1,0 6,0a3,3 0 1,0 -6,0M1072.1,245.4a3,3 0 1,0 6,0a3,3 0 1,0 -6,0M1071.6,252.6a3,3 0 1,0 6,0a3,3 0 1,0 -6,0M1069.9,257.0a3,3 0 1,0 6,0a3,3 0 1,0 -6,0M1073.7,237.6a3,3 0 1,0 6,0a3,3 0 1,0 -6,0M1073.4,257.6a3,3 0 1,0 6,0a3,3 0 1,0 -6,0" fill="#2669ff"/>
<path d="M895.8,160.1l6.3,6.3l-6.3,6.3l-6.3,-6.3zM931.1,195.2l6.3,6.3l-6.3,6.3l-6.3,-6.3zM978.9,230.9l6.3,6.3l-6.3,6.3l-6.3,-6.3zM1020.0,232.4l6.3,6.3l-6.3,6.3l-6.3,-6.3zM752.2,273.7l6.3,6.3l-6.3,6.3l-6.3,-6.3zM710.3,319.1l6.3,6.3l-6.3,6.3l-6.3,-6.3zM861.9,275.9l6.3,6.3l-6.3,6.3l-6.3,-6.3zM895.8,287.8l6.3,6.3l-6.3,6.3l-6.3,-6.3zM908.0,304.3l6.3,6.3l-6.3,6.3l-6.3,-6.3zM838.0,328.5l6.3,6.3l-6.3,6.3l-6.3,-6.3zM846.7,341.3l6.3,6.3l-6.3,6.3l-6.3,-6.3zM905.0,333.7l6.3,6.3l-6.3,6.3l-6.3,-6.3zM920.6,337.0l6.3,6.3l-6.3,6.3l-6.3,-6.3zM929.4,253.7l6.3,6.3l-6.3,6.3l-6.3,-6.3zM929.4,286.5l6.3,6.3l-6.3,6.3l-6.3,-6.3zM928.9,300.4l6.3,6.3l-6.3,6.3l-6.3,-6.3zM929.4,324.8l6.3,6.3l-6.3,6.3l-6.3,-6.3zM940.6,248.1l6.3,6.3l-6.3,6.3l-6.3,-6.3zM933.9,254.3l6.3,6.3l-6.3,6.3l-6.3,-6.3zM955.0,257.9l6.3,6.3l-6.3,6.3l-6.3,-6.3zM943.3,265.4l6.3,6.3l-6.3,6.3l-6.3,-6.3zM963.3,273.7l6.3,6.3l-6.3,6.3l-6.3,-6.3zM950.0,277.6l6.3,6.3l-6.3,6.3l-6.3,-6.3zM965.0,285.9l6.3,6.3l-6.3,6.3l-6.3,-6.3zM996.7,270.9l6.3,6.3l-6.3,6.3l-6.3,-6.3zM1001.1,276.5l6.3,6.3l-6.3,6.3l-6.3,-6.3zM994.4,280.4l6.3,6.3l-6.3,6.3l-6.3,-6.3zM988.9,283.7l6.3,6.3l-6.3,6.3l-6.3,-6.3zM996.7,282.6l6.3,6.3l-6.3,6.3l-6.3,-6.3zM1008.9,280.4l6.3,6.3l-6.3,6.3l-6.3,-6.3zM981.1,294.8l6.3,6.3l-6.3,6.3l-6.3,-6.3zM931.7,300.4l6.3,6.3l-6.3,6.3l-6.3,-6.3zM940.6,303.7l6.3,6.3l-6.3,6.3l-6.3,-6.3zM946.7,302.6l6.3,6.3l-6.3,6.3l-6.3,-6.3zM972.2,309.8l6.3,6.3l-6.3,6.3l-6.3,-6.3zM933.9,324.8l6.3,6.3l-6.3,6.3l-6.3,-6.3zM1017.2,308.7l6.3,6.3l-6.3,6.3l-6.3,-6.3zM1027.8,305.9l6.3,6.3l-6.3,6.3l-6.3,-6.3zM1025.0,318.7l6.3,6.3l-6.3,6.3l-6.3,-6.3zM1037.2,317.6l6.3,6.3l-6.3,6.3l-6.3,-6.3zM1063.9,307.0l6.3,6.3l-6.3,6.3l-6.3,-6.3zM1059.4,316.5l6.3,6.3l-6.3,6.3l-6.3,-6.3zM1105.0,279.8l6.3,6.3l-6.3,6.3l-6.3,-6.3zM1108.3,283.1l6.3,6.3l-6.3,6.3l-6.3,-6.3zM1115.8,292.3l6.3,6.3l-6.3,6.3l-6.3,-6.3zM1082.8,335.4l6.3,6.3l-6.3,6.3l-6.3,-6.3zM1096.1,343.7l6.3,6.3l-6.3,6.3l-6.3,-6.3zM1103.9,347.6l6.3,6.3l-6.3,6.3l-6.3,-6.3zM1334.1,161.7l6.3,6.3l-6.3,6.3l-6.3,-6.3zM838.0,348.7l6.3,6.3l-6.3,6.3l-6.3,-6.3zM846.7,343.7l6.3,6.3l-6.3,6.3l-6.3,-6.3zM945.6,349.0l6.3,6.3l-6.3,6.3l-6.3,-6.3zM1015.6,355.6l6.3,6.3l-6.3,6.3l-6.3,-6.3z" fill="#c40000"/>
<path d="M851.3,187.2l3.4,3.4l-3.4,3.4l-3.4,-3.4zM999.1,172.2l3.4,3.4l-3.4,3.4l-3.4,-3.4z" fill="#efb9d9"/>
<path d="M1176.9,89.6h6.2v6.2h-6.2zM1213.8,228.9h6.2v6.2h-6.2zM1223.3,229.6h6.2v6.2h-6.2zM1220.5,236.8h6.2v6.2h-6.2zM1285.0,197.9h6.2v6.2h-6.2zM1293.4,197.7h6.2v6.2h-6.2zM1261.9,215.6h6.2v6.2h-6.2zM899.7,272.2h6.2v6.2h-6.2zM889.7,298.6h6.2v6.2h-6.2zM913.0,293.6h6.2v6.2h-6.2zM887.7,307.1h6.2v6.2h-6.2zM919.1,303.0h6.2v6.2h-6.2zM924.7,309.7h6.2v6.2h-6.2zM910.2,316.9h6.2v6.2h-6.2zM901.9,329.1h6.2v6.2h-6.2zM926.3,341.3h6.2v6.2h-6.2zM949.9,247.7h6.2v6.2h-6.2zM1004.1,239.7h6.2v6.2h-6.2zM998.9,254.3h6.2v6.2h-6.2zM946.0,268.0h6.2v6.2h-6.2zM950.8,275.8h6.2v6.2h-6.2zM955.2,275.8h6.2v6.2h-6.2zM988.0,271.7h6.2v6.2h-6.2zM992.5,272.5h6.2v6.2h-6.2zM951.3,284.1h6.2v6.2h-6.2zM956.3,285.2h6.2v6.2h-6.2zM960.8,287.5h6.2v6.2h-6.2zM931.9,287.5h6.2v6.2h-6.2zM934.7,289.7h6.2v6.2h-6.2zM1004.1,281.3h6.2v6.2h-6.2zM1015.2,284.1h6.2v6.2h-6.2zM1015.2,288.6h6.2v6.2h-6.2zM1040.2,275.8h6.2v6.2h-6.2zM979.7,294.1h6.2v6.2h-6.2zM964.7,295.8h6.2v6.2h-6.2zM941.9,298.0h6.2v6.2h-6.2zM950.2,299.7h6.2v6.2h-6.2zM993.6,301.9h6.2v6.2h-6.2zM929.7,310.8h6.2v6.2h-6.2zM943.6,308.6h6.2v6.2h-6.2zM960.8,318.0h6.2v6.2h-6.2zM1009.7,318.3h6.2v6.2h-6.2zM1051.9,321.3h6.2v6.2h-6.2zM1071.3,289.1h6.2v6.2h-6.2zM1055.8,333.0h6.2v6.2h-6.2zM1066.7,333.3h6.2v6.2h-6.2zM945.8,338.0h6.2v6.2h-6.2zM990.2,339.7h6.2v6.2h-6.2zM928.6,341.3h6.2v6.2h-6.2zM931.3,328.0h6.2v6.2h-6.2zM1220.8,238.0h6.2v6.2h-6.2zM1129.7,245.2h6.2v6.2h-6.2zM1140.6,269.1h6.2v6.2h-6.2zM1107.5,275.8h6.2v6.2h-6.2zM1082.7,281.3h6.2v6.2h-6.2zM1112.7,283.0h6.2v6.2h-6.2zM1126.3,285.8h6.2v6.2h-6.2zM1187.8,282.2h6.2v6.2h-6.2zM1085.8,307.7h6.2v6.2h-6.2zM1084.7,312.5h6.2v6.2h-6.2zM1081.9,316.8h6.2v6.2h-6.2zM1083.9,322.5h6.2v6.2h-6.2zM1107.8,326.2h6.2v6.2h-6.2zM1108.8,330.0h6.2v6.2h-6.2zM779.7,356.3h6.2v6.2h-6.2zM855.2,355.6h6.2v6.2h-6.2zM859.1,362.8h6.2v6.2h-6.2zM879.7,372.5h6.2v6.2h-6.2zM922.5,352.8h6.2v6.2h-6.2zM871.0,408.3h6.2v6.2h-6.2zM899.7,419.3h6.2v6.2h-6.2zM996.3,361.9h6.2v6.2h-6.2zM1007.2,383.0h6.2v6.2h-6.2zM952.5,402.8h6.2v6.2h-6.2z" fill="#008014"/>
<path d="M983.2,188.6h6.4v6.4h-6.4zM971.8,192.9h6.4v6.4h-6.4zM975.7,198.7h6.4v6.4h-6.4zM937.9,219.6h6.4v6.4h-6.4zM1002.9,230.9h6.4v6.4h-6.4zM1235.3,165.9h6.4v6.4h-6.4zM1257.9,211.8h6.4v6.4h-6.4zM1265.4,214.5h6.4v6.4h-6.4zM1257.6,219.6h6.4v6.4h-6.4zM1245.5,224.3h6.4v6.4h-6.4zM1234.7,228.8h6.4v6.4h-6.4zM825.7,276.0h6.4v6.4h-6.4zM799.0,302.4h6.4v6.4h-6.4zM872.1,299.0h6.4v6.4h-6.4zM868.7,308.5h6.4v6.4h-6.4zM855.7,323.5h6.4v6.4h-6.4zM868.5,324.4h6.4v6.4h-6.4zM921.8,270.5h6.4v6.4h-6.4zM918.8,286.5h6.4v6.4h-6.4zM921.8,297.9h6.4v6.4h-6.4zM904.6,315.7h6.4v6.4h-6.4zM914.6,315.5h6.4v6.4h-6.4zM926.2,336.8h6.4v6.4h-6.4zM999.6,246.6h6.4v6.4h-6.4zM957.7,253.5h6.4v6.4h-6.4zM987.7,255.9h6.4v6.4h-6.4zM1037.7,262.0h6.4v6.4h-6.4zM975.5,265.9h6.4v6.4h-6.4zM936.8,266.8h6.4v6.4h-6.4zM954.6,269.8h6.4v6.4h-6.4zM1060.5,269.8h6.4v6.4h-6.4zM1027.4,272.9h6.4v6.4h-6.4zM1003.2,274.0h6.4v6.4h-6.4zM932.7,276.8h6.4v6.4h-6.4zM1051.0,277.4h6.4v6.4h-6.4zM979.9,285.7h6.4v6.4h-6.4zM1013.5,285.7h6.4v6.4h-6.4zM1028.5,289.0h6.4v6.4h-6.4zM1047.7,294.6h6.4v6.4h-6.4zM990.1,295.7h6.4v6.4h-6.4zM944.6,294.6h6.4v6.4h-6.4zM931.8,296.8h6.4v6.4h-6.4zM969.6,299.6h6.4v6.4h-6.4zM972.4,297.9h6.4v6.4h-6.4zM971.8,304.6h6.4v6.4h-6.4zM955.7,300.7h6.4v6.4h-6.4zM1022.9,299.6h6.4v6.4h-6.4zM1017.4,302.4h6.4v6.4h-6.4zM1056.2,302.9h6.4v6.4h-6.4zM948.5,305.7h6.4v6.4h-6.4zM1005.9,308.5h6.4v6.4h-6.4zM952.9,312.9h6.4v6.4h-6.4zM964.6,312.4h6.4v6.4h-6.4zM968.8,319.6h6.4v6.4h-6.4zM990.7,326.8h6.4v6.4h-6.4zM1010.7,325.7h6.4v6.4h-6.4zM929.6,325.7h6.4v6.4h-6.4zM957.0,331.8h6.4v6.4h-6.4zM956.6,338.5h6.4v6.4h-6.4zM1026.2,333.5h6.4v6.4h-6.4zM1031.2,332.6h6.4v6.4h-6.4zM983.7,337.6h6.4v6.4h-6.4zM1012.4,340.7h6.4v6.4h-6.4zM1012.9,344.6h6.4v6.4h-6.4zM928.5,336.2h6.4v6.4h-6.4zM974.6,346.2h6.4v6.4h-6.4zM1115.7,286.8h6.4v6.4h-6.4zM1126.2,287.4h6.4v6.4h-6.4zM1123.2,290.1h6.4v6.4h-6.4zM1105.1,301.8h6.4v6.4h-6.4zM828.5,350.7h6.4v6.4h-6.4zM852.1,359.8h6.4v6.4h-6.4zM876.8,350.9h6.4v6.4h-6.4zM899.6,365.9h6.4v6.4h-6.4zM966.6,352.7h6.4v6.4h-6.4zM974.6,348.5h6.4v6.4h-6.4zM984.6,351.8h6.4v6.4h-6.4zM1001.2,349.0h6.4v6.4h-6.4zM1013.2,347.4h6.4v6.4h-6.4zM962.4,371.8h6.4v6.4h-6.4zM1063.8,370.7h6.4v6.4h-6.4z" fill="#ff8a1c"/>
<path d="M905,193.3L952.8,310.6" stroke="#c40000" stroke-width="1.6" fill="none"/>
<path d="M897.8,246.1L928,313" stroke="#008014" stroke-width="1.6" fill="none"/>
<path d="M548.4,370.4L843.9,401.7M545.6,388.4L831.7,440.9" stroke="#000" stroke-width="1.9" fill="none"/>
<!--MORE-->
<text x="617.1" y="437.7" font-size="31.7" fill="#ff8a1c" stroke="#ff8a1c" stroke-width="0.51" textLength="26.4" lengthAdjust="spacingAndGlyphs">Io</text>
<text x="409.4" y="350.6" font-size="27.6" fill="#555" stroke="#555" stroke-width="0.44" textLength="129.5" lengthAdjust="spacingAndGlyphs">Trappist 1f</text>
<text x="441.9" y="375.0" font-size="24.4" fill="#555" stroke="#555" stroke-width="0.39" textLength="97.4" lengthAdjust="spacingAndGlyphs">from afar</text>
<text x="409.7" y="399.0" font-size="24.2" fill="#555" stroke="#555" stroke-width="0.39" textLength="129.3" lengthAdjust="spacingAndGlyphs">from nearby</text>
<text x="670.0" y="601.0" font-size="31.4" fill="#df0808" stroke="#df0808" stroke-width="0.50" textLength="68.7" lengthAdjust="spacingAndGlyphs">Titan</text>
<text x="752.6" y="525.1" font-size="31.0" fill="#df0808" stroke="#df0808" stroke-width="0.50" textLength="86.3" lengthAdjust="spacingAndGlyphs">Venus</text>
<text x="840.2" y="555.7" font-size="31.0" fill="#df0808" stroke="#df0808" stroke-width="0.50" textLength="74.0" lengthAdjust="spacingAndGlyphs">Earth</text>
<text x="592.0" y="637.7" font-size="31.3" fill="#7d0000" stroke="#7d0000" stroke-width="0.50" textLength="78.9" lengthAdjust="spacingAndGlyphs">Triton</text>
<text x="762.4" y="591.6" font-size="31.7" fill="#7d0000" stroke="#7d0000" stroke-width="0.51" textLength="70.4" lengthAdjust="spacingAndGlyphs">Mars</text>
<text x="528.5" y="767.9" font-size="31.1" fill="#7d0000" stroke="#7d0000" stroke-width="0.50" textLength="70.9" lengthAdjust="spacingAndGlyphs">Pluto</text>
<text x="1133.9" y="392.8" font-size="30.7" fill="#2669ff" stroke="#2669ff" stroke-width="0.49" textLength="92.2" lengthAdjust="spacingAndGlyphs">Jupiter</text>
<text x="1059.6" y="444.1" font-size="30.8" fill="#2669ff" stroke="#2669ff" stroke-width="0.49" textLength="90.7" lengthAdjust="spacingAndGlyphs">Saturn</text>
<text x="1003.7" y="495.0" font-size="30.8" fill="#008014" stroke="#008014" stroke-width="0.49" textLength="116.6" lengthAdjust="spacingAndGlyphs">Neptune</text>
<text x="972.7" y="528.4" font-size="30.9" fill="#008014" stroke="#008014" stroke-width="0.49" textLength="99.5" lengthAdjust="spacingAndGlyphs">Uranus</text>
<text x="583.6" y="685.7" font-size="31.2" fill="#9200d3" stroke="#9200d3" stroke-width="0.50" textLength="53.7" lengthAdjust="spacingAndGlyphs">Eris</text>
<text x="515.6" y="710.2" font-size="27.3" fill="#9200d3" stroke="#9200d3" stroke-width="0.44" textLength="103.3" lengthAdjust="spacingAndGlyphs">Haumea</text>
<text x="454.4" y="737.3" font-size="27.6" fill="#9200d3" stroke="#9200d3" stroke-width="0.44" textLength="135.0" lengthAdjust="spacingAndGlyphs">Makemake</text>
<text x="415.4" y="770.6" font-size="27.5" fill="#9200d3" stroke="#9200d3" stroke-width="0.44" textLength="91.7" lengthAdjust="spacingAndGlyphs">Quaoar</text>
<text x="333.2" y="797.3" font-size="27.3" fill="#9200d3" stroke="#9200d3" stroke-width="0.44" textLength="79.0" lengthAdjust="spacingAndGlyphs">Sedna</text>
<text x="849.8" y="159.7" font-size="25.4" fill="#c40000" stroke="#c40000" stroke-width="0.41" textLength="42.3" lengthAdjust="spacingAndGlyphs">78b</text>
<text x="864.9" y="205.3" font-size="24.3" fill="#c40000" stroke="#c40000" stroke-width="0.39" textLength="40.5" lengthAdjust="spacingAndGlyphs">36b</text>
<text x="864.8" y="238.9" font-size="25.3" fill="#008014" stroke="#008014" stroke-width="0.41" textLength="40.8" lengthAdjust="spacingAndGlyphs">36c</text>
<text x="782.5" y="268.4" font-size="24.8" fill="#ff8a1c" stroke="#ff8a1c" stroke-width="0.40" textLength="55.2" lengthAdjust="spacingAndGlyphs">109b</text>
<text x="688.8" y="284.2" font-size="24.5" fill="#c40000" stroke="#c40000" stroke-width="0.39" textLength="54.5" lengthAdjust="spacingAndGlyphs">106b</text>
<text x="646.7" y="325.2" font-size="24.4" fill="#c40000" stroke="#c40000" stroke-width="0.39" textLength="54.3" lengthAdjust="spacingAndGlyphs">138b</text>
<text x="753.1" y="328.4" font-size="25.0" fill="#ff8a1c" stroke="#ff8a1c" stroke-width="0.40" textLength="54.3" lengthAdjust="spacingAndGlyphs">100c</text>
<text x="688.1" y="359.2" font-size="25.1" fill="#c40000" stroke="#c40000" stroke-width="0.40" textLength="55.8" lengthAdjust="spacingAndGlyphs">138d</text>
<text x="741.3" y="382.9" font-size="24.8" fill="#008014" stroke="#008014" stroke-width="0.40" textLength="41.4" lengthAdjust="spacingAndGlyphs">51b</text>
<text x="790.1" y="377.3" font-size="24.5" fill="#2669ff" stroke="#2669ff" stroke-width="0.39" textLength="39.4" lengthAdjust="spacingAndGlyphs">51c</text>
<text x="1123.6" y="77.9" font-size="24.6" fill="#008014" stroke="#008014" stroke-width="0.39" textLength="168.1" lengthAdjust="spacingAndGlyphs">PSR 1719-14 b</text>
<text x="1009.8" y="113.5" font-size="30.5" stroke-width="0.49" textLength="134.0" lengthAdjust="spacingAndGlyphs"><tspan fill="#2669ff" stroke="#2669ff">extra</tspan><tspan fill="#008014" stroke="#008014">solar</tspan></text>
<text x="1026.9" y="144.0" font-size="30.9" stroke-width="0.50" textLength="99.8" lengthAdjust="spacingAndGlyphs"><tspan fill="#ff8a1c" stroke="#ff8a1c">pla</tspan><tspan fill="#c40000" stroke="#c40000">nets</tspan></text>
<rect x="990.4" y="562.2" width="142.5" height="31.8" fill="#fff"/>
<text x="991.9" y="585.7" font-size="31.0" fill="#be9e08" stroke="#be9e08" stroke-width="0.50" textLength="139.4" lengthAdjust="spacingAndGlyphs">Proxima b</text>
<rect x="958.9" y="597.8" width="217.3" height="31.8" fill="#fff"/>
<text y="619.9" fill="#be9e08" stroke="#be9e08"><tspan x="962.0" font-size="29.5" stroke-width="0.4" font-family='"Liberation Serif", "DejaVu Serif", serif'>α </tspan><tspan x="986.2" font-size="27.6" stroke-width="0.44">Centauri debris</tspan></text>
<rect x="937.3" y="631.1" width="182.7" height="29.6" fill="#fff"/>
<text x="939.5" y="652.4" font-size="27.5" fill="#be9e08" stroke="#be9e08" stroke-width="0.44" textLength="176.4" lengthAdjust="spacingAndGlyphs">Proxima's disk</text>
<text x="44.3" y="33.1" font-size="43.6" fill="#000" stroke="#000" stroke-width="1.3" font-family='NanumGothic, "Liberation Sans", sans-serif' textLength="113.7" lengthAdjust="spacingAndGlyphs">1000</text>
<text x="72.2" y="314.5" font-size="43.6" fill="#000" stroke="#000" stroke-width="1.3" font-family='NanumGothic, "Liberation Sans", sans-serif' textLength="85.8" lengthAdjust="spacingAndGlyphs">100</text>
<text x="100.2" y="595.8" font-size="43.6" fill="#000" stroke="#000" stroke-width="1.3" font-family='NanumGothic, "Liberation Sans", sans-serif' textLength="57.9" lengthAdjust="spacingAndGlyphs">10</text>
<text x="129.8" y="877.2" font-size="43.6" fill="#000" stroke="#000" stroke-width="1.3" font-family='NanumGothic, "Liberation Sans", sans-serif' textLength="27.5" lengthAdjust="spacingAndGlyphs">1</text>
<text x="156.8" y="918.3" font-size="43.6" fill="#000" stroke="#000" stroke-width="1.3" font-family='NanumGothic, "Liberation Sans", sans-serif' textLength="68.2" lengthAdjust="spacingAndGlyphs">0.1</text>
<text x="510.9" y="918.3" font-size="43.6" fill="#000" stroke="#000" stroke-width="1.3" font-family='NanumGothic, "Liberation Sans", sans-serif' textLength="27.5" lengthAdjust="spacingAndGlyphs">1</text>
<text x="828.2" y="918.3" font-size="43.6" fill="#000" stroke="#000" stroke-width="1.3" font-family='NanumGothic, "Liberation Sans", sans-serif' textLength="57.9" lengthAdjust="spacingAndGlyphs">10</text>
<text x="1148.4" y="918.3" font-size="43.6" fill="#000" stroke="#000" stroke-width="1.3" font-family='NanumGothic, "Liberation Sans", sans-serif' textLength="85.8" lengthAdjust="spacingAndGlyphs">100</text>
<text x="483.3" y="979.4" font-size="54.7" fill="#000" stroke="#000" stroke-width="0.87" textLength="553.1" lengthAdjust="spacingAndGlyphs">Escape Velocity (km/s)</text>
<g transform="translate(39.9,0) rotate(-90)"><text x="-801.0" y="0.0" font-size="54.6" fill="#000" stroke="#000" stroke-width="0.87" textLength="728.8" lengthAdjust="spacingAndGlyphs">Median Impact Velocity (km/s)</text></g>
</svg>
</body>
</html>
